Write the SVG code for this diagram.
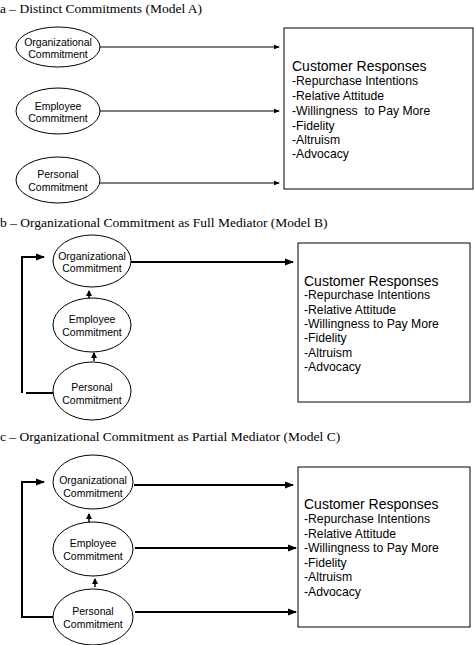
<svg xmlns="http://www.w3.org/2000/svg" width="474" height="645" viewBox="0 0 474 645">
<defs>
<marker id="ah" markerWidth="6" markerHeight="6" refX="5" refY="3" orient="auto" markerUnits="userSpaceOnUse"><path d="M0,0.8 L6,3 L0,5.2 Z" fill="#000"/></marker>
<marker id="ahb" markerWidth="9" markerHeight="8" refX="8" refY="4" orient="auto" markerUnits="userSpaceOnUse"><path d="M0,0.5 L9,4 L0,7.5 Z" fill="#000"/></marker>
<marker id="ahs" markerWidth="6" markerHeight="6" refX="5" refY="3" orient="auto" markerUnits="userSpaceOnUse"><path d="M0,0 L6,3 L0,6 Z" fill="#000"/></marker>
</defs>
<style>
.title{font-family:"Liberation Serif",serif;font-size:13.5px;fill:#000}
.node{fill:#fff;stroke:#000;stroke-width:1}
.nt{font-family:"Liberation Sans",Arial,sans-serif;font-size:10.5px;text-anchor:middle;fill:#000}
.box{fill:#fff;stroke:#000;stroke-width:1}
.bh{font-family:"Liberation Sans",Arial,sans-serif;font-size:14px;fill:#000}
.bl{font-family:"Liberation Sans",Arial,sans-serif;font-size:12.2px;fill:#000}
.thin{fill:none;stroke:#000;stroke-width:1;marker-end:url(#ah)}
.thick{fill:none;stroke:#000;stroke-width:2;marker-end:url(#ahb)}
.plain{fill:none;stroke:#000;stroke-width:2}
.up{fill:none;stroke:#000;stroke-width:1.5;marker-end:url(#ahs)}
</style>
<rect width="474" height="645" fill="#fff"/>

<text class="title" x="0" y="13">a – Distinct Commitments (Model A)</text>
<text class="title" x="0" y="227">b – Organizational Commitment as Full Mediator (Model B)</text>
<text class="title" x="0" y="441">c – Organizational Commitment as Partial Mediator (Model C)</text>

<g id="connectors">
<!-- A -->
<line class="thin" x1="100" y1="47" x2="279" y2="47"/>
<line class="thin" x1="100" y1="111" x2="279" y2="111"/>
<line class="thin" x1="100" y1="183" x2="279" y2="183"/>
<!-- B -->
<line class="thick" x1="131" y1="262" x2="293" y2="262"/>
<line class="up" x1="89" y1="299" x2="89" y2="291"/>
<line class="up" x1="94" y1="361" x2="94" y2="353"/>
<line class="plain" x1="26" y1="393" x2="53" y2="393"/>
<polyline class="thick" points="22,393 22,257 44,257"/>
<!-- C -->
<line class="thick" x1="134" y1="485" x2="293" y2="485"/>
<line class="thick" x1="135" y1="548" x2="296" y2="548"/>
<line class="thick" x1="135" y1="612" x2="296" y2="612"/>
<line class="up" x1="89" y1="522" x2="89" y2="514"/>
<line class="up" x1="95" y1="587" x2="95" y2="579"/>
<polyline class="thick" points="53,617 22,617 22,482 44,482"/>
</g>

<g id="a-org"><ellipse class="node" cx="58" cy="47" rx="42" ry="20"/><text class="nt" x="58" y="46">Organizational</text><text class="nt" x="58" y="58">Commitment</text></g>
<g id="a-emp"><ellipse class="node" cx="58" cy="111" rx="42" ry="23"/><text class="nt" x="58" y="110">Employee</text><text class="nt" x="58" y="122">Commitment</text></g>
<g id="a-pers"><ellipse class="node" cx="58" cy="180" rx="42" ry="23"/><text class="nt" x="58" y="178">Personal</text><text class="nt" x="58" y="191">Commitment</text></g>
<g id="a-box"><rect class="box" x="284" y="28" width="189" height="161"/>
<text class="bh" x="292" y="71">Customer Responses</text>
<text class="bl" x="292" y="85">-Repurchase Intentions</text>
<text class="bl" x="292" y="100">-Relative Attitude</text>
<text class="bl" x="292" y="115" xml:space="preserve">-Willingness  to Pay More</text>
<text class="bl" x="292" y="130">-Fidelity</text>
<text class="bl" x="292" y="144">-Altruism</text>
<text class="bl" x="292" y="158">-Advocacy</text></g>

<g id="b-org"><ellipse class="node" cx="92" cy="261" rx="39" ry="26"/><text class="nt" x="92" y="260">Organizational</text><text class="nt" x="92" y="272">Commitment</text></g>
<g id="b-emp"><ellipse class="node" cx="92" cy="325" rx="39" ry="27"/><text class="nt" x="92" y="323">Employee</text><text class="nt" x="92" y="336">Commitment</text></g>
<g id="b-pers"><ellipse class="node" cx="92" cy="391" rx="39" ry="29"/><text class="nt" x="92" y="391">Personal</text><text class="nt" x="92" y="404">Commitment</text></g>
<g id="b-box"><rect class="box" x="298" y="243" width="172" height="159"/>
<text class="bh" x="304" y="286">Customer Responses</text>
<text class="bl" x="304" y="299">-Repurchase Intentions</text>
<text class="bl" x="304" y="314">-Relative Attitude</text>
<text class="bl" x="304" y="328">-Willingness to Pay More</text>
<text class="bl" x="304" y="342">-Fidelity</text>
<text class="bl" x="304" y="357">-Altruism</text>
<text class="bl" x="304" y="371">-Advocacy</text></g>

<g id="c-org"><ellipse class="node" cx="93" cy="482" rx="40" ry="27"/><text class="nt" x="93" y="484">Organizational</text><text class="nt" x="93" y="497">Commitment</text></g>
<g id="c-emp"><ellipse class="node" cx="93" cy="549" rx="40" ry="27"/><text class="nt" x="93" y="547">Employee</text><text class="nt" x="93" y="560">Commitment</text></g>
<g id="c-pers"><ellipse class="node" cx="93" cy="617" rx="40" ry="28"/><text class="nt" x="93" y="615">Personal</text><text class="nt" x="93" y="628">Commitment</text></g>
<g id="c-box"><rect class="box" x="298" y="467" width="172" height="160"/>
<text class="bh" x="304" y="509">Customer Responses</text>
<text class="bl" x="304" y="523">-Repurchase Intentions</text>
<text class="bl" x="304" y="538">-Relative Attitude</text>
<text class="bl" x="304" y="552">-Willingness to Pay More</text>
<text class="bl" x="304" y="567">-Fidelity</text>
<text class="bl" x="304" y="581">-Altruism</text>
<text class="bl" x="304" y="596">-Advocacy</text></g>
</svg>
